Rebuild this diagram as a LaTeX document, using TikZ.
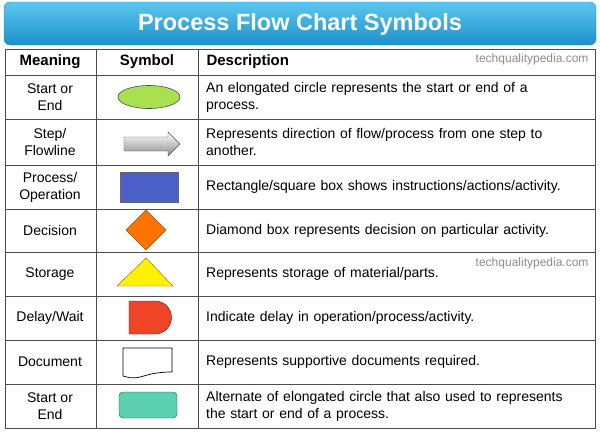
\documentclass[tikz,border=0pt]{standalone}
\usepackage{fontspec}
\setmainfont{Liberation Sans}
\usetikzlibrary{shapes.geometric,shadows}
\definecolor{bannerTop}{HTML}{5CC8F0}
\definecolor{bannerBot}{HTML}{1E8FC8}
\definecolor{procBlue}{HTML}{4A5FC8}
\definecolor{termGreen}{HTML}{A8E050}
\definecolor{altTeal}{HTML}{5CCFB0}
\definecolor{delayRed}{HTML}{F04428}
\begin{document}
\begin{tikzpicture}[x=1pt,y=-1pt,
  grid/.style={draw=black!70,line width=0.9pt},
  mean/.style={font=\fontsize{14}{17}\selectfont,align=center,anchor=center},
  desc/.style={font=\fontsize{14}{17}\selectfont,align=left,anchor=west,text width=392pt,inner sep=0pt},
  hdr/.style={font=\bfseries\fontsize{15}{17}\selectfont},
  wm/.style={font=\fontsize{12}{14}\selectfont,text=black!45,anchor=east},
  sym/.style={draw=black!70,line width=0.6pt}]
\useasboundingbox (0,0) rectangle (600,434);
\fill[white] (0,0) rectangle (600,434);
% banner
\shade[top color=bannerTop,bottom color=bannerBot,rounded corners=6pt,draw=bannerBot] (4,2) rectangle (596,45);
\node[text=white,font=\bfseries\fontsize{23.5}{27}\selectfont] (title) at (300,24) {Process Flow Chart Symbols};
% grid
\draw[grid] (5,49) rectangle (595,428);
\foreach \y in {75,119,165,209,252,296,340,384} \draw[grid] (5,\y) -- (595,\y);
\draw[grid] (96,49) -- (96,428);
\draw[grid] (198,49) -- (198,428);
% header
\node[hdr] (h1) at (50,62) {Meaning};
\node[hdr] (h2) at (147,62) {Symbol};
\node[hdr,anchor=west] (h3) at (203,62) {Description};
\node[wm] (wm1) at (592,59) {techqualitypedia.com};
\node[wm] (wm2) at (592,263) {techqualitypedia.com};
% meanings
\node[mean] (m1) at (50,97) {Start or\\End};
\node[mean] (m2) at (50,142) {Step/\\Flowline};
\node[mean] (m3) at (50,187) {Process/\\Operation};
\node[mean] (m4) at (50,230.5) {Decision};
\node[mean] (m5) at (50,274) {Storage};
\node[mean] (m6) at (50,318) {Delay/Wait};
\node[mean] (m7) at (50,362) {Document};
\node[mean] (m8) at (50,406) {Start or\\End};
% descriptions
\node[desc] (d1) at (206,97) {An elongated circle represents the start or end of a\\process.};
\node[desc] (d2) at (206,142) {Represents direction of flow/process from one step to\\another.};
\node[desc] (d3) at (206,187) {Rectangle/square box shows instructions/actions/activity.};
\node[desc] (d4) at (206,230.5) {Diamond box represents decision on particular activity.};
\node[desc] (d5) at (206,274) {Represents storage of material/parts.};
\node[desc] (d6) at (206,318) {Indicate delay in operation/process/activity.};
\node[desc] (d7) at (206,362) {Represents supportive documents required.};
\node[desc] (d8) at (206,406) {Alternate of elongated circle that also used to represents\\the start or end of a process.};
% symbols
\node[sym,ellipse,fill=termGreen,minimum width=62pt,minimum height=23pt] (s1) at (149,97) {};
\shade[top color=white,bottom color=black!45,draw=black!70] (124,137) -- (168,137) -- (168,132) -- (180,144) -- (168,156) -- (168,151) -- (124,151) -- cycle;
\fill[procBlue,draw=black!60] (120,172) rectangle (178,202);
\fill[orange!90!red,draw=orange!60!black] (146,210) -- (166,230) -- (146,250) -- (126,230) -- cycle;
\fill[yellow,draw=orange!70!black] (117,286) -- (146,258) -- (173,286) -- cycle;
\fill[delayRed,draw=red!50!black] (129,301) -- (155,301) arc (-90:90:16.5) -- (129,334) -- cycle;
\draw[black,line width=0.7pt,fill=white] (123,348) -- (172,348) -- (172,372) .. controls (155,372) and (148,375) .. (140,377) .. controls (132,379) and (127,377) .. (123,376) -- cycle;
\fill[altTeal,draw=teal!70!black,rounded corners=4pt] (119,392) rectangle (177,418);
\end{tikzpicture}
\end{document}
